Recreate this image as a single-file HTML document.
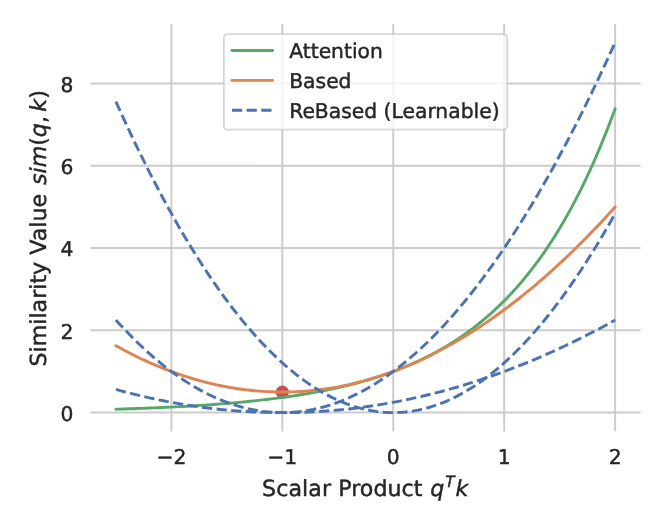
<!DOCTYPE html>
<html lang="en">
<head>
<meta charset="utf-8">
<title>Similarity functions</title>
<style>
html,body{margin:0;padding:0;background:#fff;}
body{width:664px;height:532px;overflow:hidden;}
svg{display:block;}
text{font-family:"DejaVu Sans","Liberation Sans",sans-serif;fill:#262626;stroke:#262626;stroke-width:0.24;stroke-linejoin:round;text-rendering:geometricPrecision;}
.tk{font-size:11px;}
.lb{font-size:12px;}
.it{font-style:oblique;}
.grid line{stroke:#cccccc;stroke-width:1.08;stroke-linecap:round;}
.ln{fill:none;stroke-width:1.58;stroke-linejoin:round;}
.solid{stroke-linecap:round;}
.dash{stroke:#4c72b0;stroke-dasharray:5.55 2.4;stroke-linecap:butt;}
</style>
</head>
<body>
<svg width="664" height="532" viewBox="0 0 360 288" preserveAspectRatio="none">
<defs><clipPath id="ax"><rect x="49.32" y="12.96" width="297.720" height="220.428"/></clipPath><clipPath id="axg"><rect x="48.990" y="12.96" width="298.380" height="220.578"/></clipPath></defs>
<rect x="0" y="0" width="360" height="288" fill="#ffffff"/>
<g class="grid" clip-path="url(#axg)">
<line x1="92.925" y1="233.388" x2="92.925" y2="12.96"/>
<line x1="153.071" y1="233.388" x2="153.071" y2="12.96"/>
<line x1="213.216" y1="233.388" x2="213.216" y2="12.96"/>
<line x1="273.362" y1="233.388" x2="273.362" y2="12.96"/>
<line x1="333.507" y1="233.388" x2="333.507" y2="12.96"/>
<line x1="49.32" y1="223.369" x2="347.04" y2="223.369"/>
<line x1="49.32" y1="178.838" x2="347.04" y2="178.838"/>
<line x1="49.32" y1="134.307" x2="347.04" y2="134.307"/>
<line x1="49.32" y1="89.776" x2="347.04" y2="89.776"/>
<line x1="49.32" y1="45.245" x2="347.04" y2="45.245"/>
</g>
<g class="tk" text-anchor="middle">
<text x="92.925" y="251.246">−2</text>
<text x="153.071" y="251.246">−1</text>
<text x="213.216" y="251.246">0</text>
<text x="273.362" y="251.246">1</text>
<text x="333.507" y="251.246">2</text>
</g>
<g class="tk" text-anchor="end">
<text x="39.82" y="227.819">0</text>
<text x="39.82" y="183.288">2</text>
<text x="39.82" y="138.757">4</text>
<text x="39.82" y="94.226">6</text>
<text x="39.82" y="49.695">8</text>
</g>
<g class="lb" transform="translate(142.44 268.55)"><text x="-0.34" y="-0.281" xml:space="preserve"><tspan letter-spacing="0.03">Scalar Product </tspan><tspan class="it" x="90.855">q</tspan><tspan class="it" x="99.03" y="-4.875" font-size="8.4">T</tspan><tspan class="it" x="104.49" y="-0.281">k</tspan></text></g>
<g class="lb" transform="translate(25.6 198.44) rotate(-90)"><text x="0" y="-0.875" xml:space="preserve">Similarity Value <tspan class="it" x="98.25">sim</tspan><tspan x="119.525">(</tspan><tspan class="it" x="124.207">q</tspan><tspan x="131.824">,</tspan><tspan class="it" x="137.977">k</tspan><tspan x="144.926">)</tspan></text></g>
<g clip-path="url(#ax)">
<circle cx="153.071" cy="212.236" r="3.55" fill="#c44e52"/>
<path class="ln solid" stroke="#55a868" d="M62.85 221.54L65.13 221.47L67.40 221.40L69.68 221.32L71.95 221.24L74.22 221.16L76.50 221.08L78.77 220.99L81.05 220.90L83.32 220.80L85.60 220.70L87.87 220.60L90.15 220.49L92.42 220.38L94.69 220.27L96.97 220.15L99.24 220.02L101.52 219.89L103.79 219.76L106.07 219.62L108.34 219.47L110.62 219.32L112.89 219.17L115.16 219.01L117.44 218.84L119.71 218.66L121.99 218.48L124.26 218.29L126.54 218.10L128.81 217.90L131.08 217.69L133.36 217.47L135.63 217.24L137.91 217.00L140.18 216.76L142.46 216.50L144.73 216.24L147.01 215.96L149.28 215.68L151.55 215.38L153.83 215.07L156.10 214.75L158.38 214.42L160.65 214.08L162.93 213.72L165.20 213.35L167.48 212.96L169.75 212.56L172.02 212.14L174.30 211.71L176.57 211.26L178.85 210.79L181.12 210.31L183.40 209.81L185.67 209.28L187.95 208.74L190.22 208.18L192.49 207.59L194.77 206.98L197.04 206.35L199.32 205.70L201.59 205.02L203.87 204.31L206.14 203.57L208.41 202.81L210.69 202.02L212.96 201.20L215.24 200.34L217.51 199.45L219.79 198.53L222.06 197.58L224.34 196.58L226.61 195.55L228.88 194.48L231.16 193.36L233.43 192.21L235.71 191.01L237.98 189.76L240.26 188.46L242.53 187.12L244.81 185.72L247.08 184.27L249.35 182.76L251.63 181.20L253.90 179.57L256.18 177.89L258.45 176.13L260.73 174.31L263.00 172.42L265.28 170.46L267.55 168.42L269.82 166.30L272.10 164.10L274.37 161.82L276.65 159.45L278.92 156.98L281.20 154.42L283.47 151.77L285.74 149.01L288.02 146.14L290.29 143.17L292.57 140.08L294.84 136.87L297.12 133.53L299.39 130.07L301.67 126.47L303.94 122.74L306.21 118.86L308.49 114.83L310.76 110.65L313.04 106.31L315.31 101.80L317.59 97.11L319.86 92.24L322.14 87.19L324.41 81.94L326.68 76.49L328.96 70.83L331.23 64.95L333.51 58.85"/>
<path class="ln solid" stroke="#dd8452" d="M62.85 187.19L65.13 188.43L67.40 189.65L69.68 190.83L71.95 191.98L74.22 193.10L76.50 194.19L78.77 195.25L81.05 196.27L83.32 197.26L85.60 198.22L87.87 199.15L90.15 200.05L92.42 200.92L94.69 201.75L96.97 202.55L99.24 203.32L101.52 204.06L103.79 204.76L106.07 205.44L108.34 206.08L110.62 206.69L112.89 207.27L115.16 207.81L117.44 208.33L119.71 208.81L121.99 209.26L124.26 209.68L126.54 210.07L128.81 210.42L131.08 210.75L133.36 211.04L135.63 211.30L137.91 211.53L140.18 211.72L142.46 211.89L144.73 212.02L147.01 212.12L149.28 212.19L151.55 212.23L153.83 212.23L156.10 212.21L158.38 212.15L160.65 212.06L162.93 211.94L165.20 211.78L167.48 211.60L169.75 211.38L172.02 211.13L174.30 210.85L176.57 210.54L178.85 210.19L181.12 209.81L183.40 209.41L185.67 208.97L187.95 208.49L190.22 207.99L192.49 207.45L194.77 206.89L197.04 206.29L199.32 205.65L201.59 204.99L203.87 204.30L206.14 203.57L208.41 202.81L210.69 202.02L212.96 201.20L215.24 200.34L217.51 199.46L219.79 198.54L222.06 197.59L224.34 196.61L226.61 195.59L228.88 194.55L231.16 193.47L233.43 192.36L235.71 191.22L237.98 190.05L240.26 188.84L242.53 187.61L244.81 186.34L247.08 185.04L249.35 183.71L251.63 182.34L253.90 180.95L256.18 179.52L258.45 178.06L260.73 176.57L263.00 175.05L265.28 173.49L267.55 171.90L269.82 170.29L272.10 168.64L274.37 166.95L276.65 165.24L278.92 163.49L281.20 161.72L283.47 159.91L285.74 158.06L288.02 156.19L290.29 154.29L292.57 152.35L294.84 150.38L297.12 148.38L299.39 146.35L301.67 144.28L303.94 142.19L306.21 140.06L308.49 137.90L310.76 135.71L313.04 133.48L315.31 131.23L317.59 128.94L319.86 126.62L322.14 124.27L324.41 121.89L326.68 119.48L328.96 117.03L331.23 114.55L333.51 112.04"/>
<path class="ln dash" d="M62.85 173.27L65.13 175.77L67.40 178.20L69.68 180.56L71.95 182.87L74.22 185.10L76.50 187.28L78.77 189.39L81.05 191.44L83.32 193.43L85.60 195.35L87.87 197.20L90.15 199.00L92.42 200.73L94.69 202.39L96.97 204.00L99.24 205.54L101.52 207.01L103.79 208.42L106.07 209.77L108.34 211.05L110.62 212.27L112.89 213.43L115.16 214.52L117.44 215.55L119.71 216.52L121.99 217.42L124.26 218.26L126.54 219.03L128.81 219.75L131.08 220.39L133.36 220.98L135.63 221.50L137.91 221.95L140.18 222.35L142.46 222.68L144.73 222.94L147.01 223.14L149.28 223.28L151.55 223.35L153.83 223.37L156.10 223.31L158.38 223.20L160.65 223.01L162.93 222.77L165.20 222.46L167.48 222.09L169.75 221.66L172.02 221.16L174.30 220.59L176.57 219.97L178.85 219.28L181.12 218.53L183.40 217.71L185.67 216.83L187.95 215.88L190.22 214.87L192.49 213.80L194.77 212.67L197.04 211.47L199.32 210.20L201.59 208.88L203.87 207.49L206.14 206.03L208.41 204.52L210.69 202.93L212.96 201.29L215.24 199.58L217.51 197.81L219.79 195.97L222.06 194.07L224.34 192.11L226.61 190.08L228.88 187.99L231.16 185.84L233.43 183.62L235.71 181.34L237.98 178.99L240.26 176.58L242.53 174.11L244.81 171.57L247.08 168.97L249.35 166.31L251.63 163.58L253.90 160.79L256.18 157.94L258.45 155.02L260.73 152.03L263.00 148.99L265.28 145.88L267.55 142.71L269.82 139.47L272.10 136.17L274.37 132.80L276.65 129.38L278.92 125.88L281.20 122.33L283.47 118.71L285.74 115.03L288.02 111.28L290.29 107.47L292.57 103.60L294.84 99.66L297.12 95.66L299.39 91.59L301.67 87.46L303.94 83.27L306.21 79.02L308.49 74.70L310.76 70.31L313.04 65.87L315.31 61.36L317.59 56.78L319.86 52.14L322.14 47.44L324.41 42.68L326.68 37.85L328.96 32.96L331.23 28.00L333.51 22.98"/>
<path class="ln dash" d="M62.85 54.99L65.13 60.04L67.40 65.02L69.68 69.92L71.95 74.75L74.22 79.49L76.50 84.16L78.77 88.76L81.05 93.27L83.32 97.71L85.60 102.07L87.87 106.36L90.15 110.57L92.42 114.70L94.69 118.75L96.97 122.73L99.24 126.63L101.52 130.45L103.79 134.19L106.07 137.86L108.34 141.45L110.62 144.97L112.89 148.41L115.16 151.77L117.44 155.05L119.71 158.26L121.99 161.38L124.26 164.44L126.54 167.41L128.81 170.31L131.08 173.13L133.36 175.87L135.63 178.54L137.91 181.13L140.18 183.64L142.46 186.08L144.73 188.44L147.01 190.72L149.28 192.92L151.55 195.05L153.83 197.10L156.10 199.08L158.38 200.97L160.65 202.79L162.93 204.53L165.20 206.20L167.48 207.79L169.75 209.30L172.02 210.73L174.30 212.09L176.57 213.37L178.85 214.57L181.12 215.70L183.40 216.75L185.67 217.72L187.95 218.61L190.22 219.43L192.49 220.17L194.77 220.83L197.04 221.42L199.32 221.93L201.59 222.36L203.87 222.72L206.14 223.00L208.41 223.20L210.69 223.32L212.96 223.37L215.24 223.34L217.51 223.23L219.79 223.05L222.06 222.79L224.34 222.45L226.61 222.03L228.88 221.54L231.16 220.97L233.43 220.32L235.71 219.60L237.98 218.80L240.26 217.92L242.53 216.97L244.81 215.94L247.08 214.83L249.35 213.64L251.63 212.38L253.90 211.04L256.18 209.62L258.45 208.13L260.73 206.56L263.00 204.91L265.28 203.18L267.55 201.38L269.82 199.50L272.10 197.55L274.37 195.51L276.65 193.40L278.92 191.22L281.20 188.95L283.47 186.61L285.74 184.19L288.02 181.70L290.29 179.12L292.57 176.47L294.84 173.75L297.12 170.94L299.39 168.06L301.67 165.10L303.94 162.07L306.21 158.96L308.49 155.77L310.76 152.50L313.04 149.16L315.31 145.74L317.59 142.24L319.86 138.67L322.14 135.02L324.41 131.29L326.68 127.48L328.96 123.60L331.23 119.64L333.51 115.60"/>
<path class="ln dash" d="M62.85 210.84L65.13 211.47L67.40 212.08L69.68 212.67L71.95 213.24L74.22 213.80L76.50 214.35L78.77 214.87L81.05 215.39L83.32 215.88L85.60 216.36L87.87 216.83L90.15 217.28L92.42 217.71L94.69 218.12L96.97 218.53L99.24 218.91L101.52 219.28L103.79 219.63L106.07 219.97L108.34 220.29L110.62 220.59L112.89 220.88L115.16 221.16L117.44 221.41L119.71 221.66L121.99 221.88L124.26 222.09L126.54 222.29L128.81 222.46L131.08 222.62L133.36 222.77L135.63 222.90L137.91 223.01L140.18 223.11L142.46 223.20L144.73 223.26L147.01 223.31L149.28 223.35L151.55 223.37L153.83 223.37L156.10 223.35L158.38 223.33L160.65 223.28L162.93 223.22L165.20 223.14L167.48 223.05L169.75 222.94L172.02 222.82L174.30 222.68L176.57 222.52L178.85 222.35L181.12 222.16L183.40 221.95L185.67 221.73L187.95 221.50L190.22 221.25L192.49 220.98L194.77 220.69L197.04 220.39L199.32 220.08L201.59 219.75L203.87 219.40L206.14 219.03L208.41 218.66L210.69 218.26L212.96 217.85L215.24 217.42L217.51 216.98L219.79 216.52L222.06 216.04L224.34 215.55L226.61 215.05L228.88 214.52L231.16 213.99L233.43 213.43L235.71 212.86L237.98 212.27L240.26 211.67L242.53 211.05L244.81 210.42L247.08 209.77L249.35 209.10L251.63 208.42L253.90 207.72L256.18 207.01L258.45 206.28L260.73 205.54L263.00 204.77L265.28 204.00L267.55 203.20L269.82 202.39L272.10 201.57L274.37 200.73L276.65 199.87L278.92 199.00L281.20 198.11L283.47 197.20L285.74 196.28L288.02 195.35L290.29 194.39L292.57 193.43L294.84 192.44L297.12 191.44L299.39 190.42L301.67 189.39L303.94 188.34L306.21 187.28L308.49 186.20L310.76 185.10L313.04 183.99L315.31 182.87L317.59 181.72L319.86 180.56L322.14 179.39L324.41 178.20L326.68 176.99L328.96 175.77L331.23 174.53L333.51 173.27"/>
</g>
<g>
<rect x="121.349" y="18.46" width="153.661" height="51.738" rx="2.2" ry="2.2" fill="#ffffff" stroke="#cccccc" stroke-width="1" opacity="0.8"/>
<path class="ln solid" stroke="#55a868" d="M125.749 27.368H147.749"/>
<path class="ln solid" stroke="#dd8452" d="M125.749 43.514H147.749"/>
<path class="ln dash" d="M125.749 59.66H147.749"/>
<g class="tk"><text x="156.8" y="31.3">Attention</text><text x="156.8" y="47.56">Based</text><text x="156.8" y="63.7">ReBased (Learnable)</text></g>
</g>
</svg>
</body>
</html>
